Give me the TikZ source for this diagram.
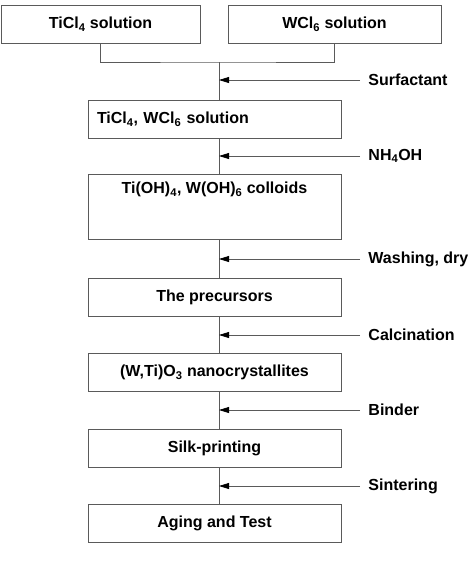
\documentclass[tikz,border=0pt]{standalone}
\usepackage{fontspec}
\setmainfont{Liberation Sans}
\usetikzlibrary{arrows.meta, positioning}
\definecolor{cline}{HTML}{5A5A5A}
\tikzset{
  every picture/.style={font=\bfseries\fontsize{16}{19}\selectfont, line width=0.9pt},
  box/.style={draw=cline, minimum width=253pt, minimum height=38pt, inner sep=0pt},
  link/.style={draw=cline, line width=0.9pt},
  feed/.style={-{Triangle[length=10pt, width=6pt, fill=black, color=black]}, draw=cline, line width=0.8pt},
  addlabel/.style={anchor=west, inner sep=0pt},
}

\begin{document}
\begin{tikzpicture}[x=1pt, y=-1pt]
  \useasboundingbox (0,0) rectangle (474,565);
  \coordinate (spine) at (219,62);
  % starting solutions
  \node[box, minimum width=199pt] (ticl) at (100.5,24) {TiCl\textsubscript{4} solution};
  \node[box, minimum width=213pt] (wcl) at (334.5,24) {WCl\textsubscript{6} solution};
  % process steps
  \node[box, text width=235pt, align=left] (mix) at (214.5,119) {TiCl\textsubscript{4}, WCl\textsubscript{6} solution};
  \node[box, minimum height=65pt] (colloid) at (214.5,206.5) {};
  \node[below=8pt of colloid.north, inner sep=0pt] (colloidtxt) {Ti(OH)\textsubscript{4}, W(OH)\textsubscript{6} colloids};
  \node[box] (prec) at (214.5,297) {The precursors};
  \node[box] (nano) at (214.5,372.5) {(W,Ti)O\textsubscript{3} nanocrystallites};
  \node[box] (silk) at (214.5,448) {Silk-printing};
  \node[box] (aging) at (214.5,523) {Aging and Test};
  % main line
  \draw[link] (ticl.south) |- (spine) -| (wcl.south);
  \draw[link] (spine) -- (mix.north -| spine);
  \foreach \a/\b in {mix/colloid, colloid/prec, prec/nano, nano/silk, silk/aging}
    \draw[link] (\a.south -| spine) -- (\b.north -| spine);
  % additions
  \foreach \y/\name/\txt in {80/surf/Surfactant, 156/nh/NH\textsubscript{4}OH, 259/wash/{Washing, dry},
      335/calc/Calcination, 410/bind/Binder, 486/sint/Sintering} {
    \node[addlabel] (\name) at (368,\y) {\txt};
    \draw[feed] ([xshift=-8pt]\name.west) -- (\name.west -| spine);
  }
\end{tikzpicture}
\end{document}
